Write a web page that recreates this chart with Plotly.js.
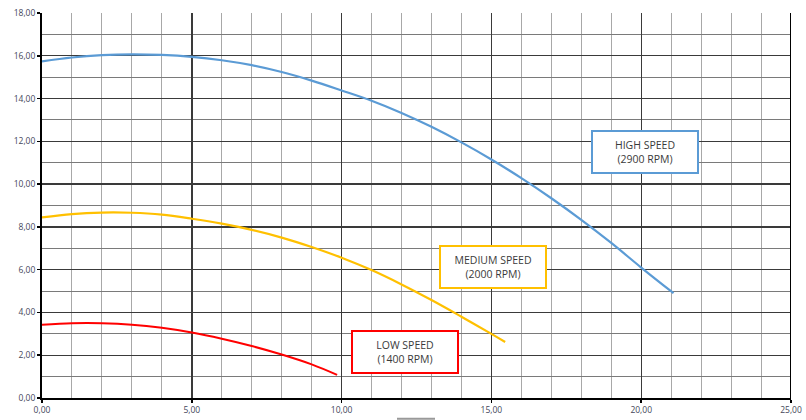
<!DOCTYPE html>
<html>
<head>
<meta charset="utf-8">
<script src="https://cdn.plot.ly/plotly-3.0.1.min.js"></script>
<style>html,body{margin:0;padding:0;background:#fff;}#chart{width:806px;height:420px;}</style>
</head>
<body>
<div id="chart"></div>
<script>
// High speed (2900 RPM)
const highX = [0, 1, 2, 3, 4, 5, 6, 7, 8, 9, 10, 11, 12, 13, 14, 15, 16, 17, 18, 19, 20, 21.08];
const highY = [15.74, 15.92, 16.03, 16.07, 16.04, 15.95, 15.79, 15.56, 15.24, 14.84, 14.38, 13.9, 13.33, 12.68, 11.95, 11.15, 10.28, 9.34, 8.33, 7.25, 6.1, 4.9];
// Medium speed (2000 RPM)
const medX = [0, 1, 2, 3, 4, 5, 6, 7, 8, 9, 10, 11, 12, 13, 14, 15, 15.46];
const medY = [8.44, 8.6, 8.67, 8.66, 8.57, 8.38, 8.15, 7.86, 7.5, 7.06, 6.56, 5.98, 5.31, 4.58, 3.8, 3.0, 2.62];
// Low speed (1400 RPM)
const lowX = [0, 1, 2, 3, 4, 5, 6, 7, 8, 9, 9.85];
const lowY = [3.43, 3.5, 3.5, 3.43, 3.28, 3.06, 2.77, 2.43, 2.03, 1.57, 1.08];
// Box labels
const labelText = ["HIGH SPEED<br>(2900 RPM)", "MEDIUM SPEED<br>(2000 RPM)", "LOW SPEED<br>(1400 RPM)"];
const labelX = [20.13, 15.04, 12.13];
const labelY = [11.5, 6.13, 2.14];
const colors = ["#5b9bd5", "#ffc000", "#ff0000"];

const traces = [
  {x: highX, y: highY, mode: "lines", line: {color: colors[0], width: 2.2, shape: "spline", smoothing: 1}, hoverinfo: "skip"},
  {x: medX, y: medY, mode: "lines", line: {color: colors[1], width: 2.2, shape: "spline", smoothing: 1}, hoverinfo: "skip"},
  {x: lowX, y: lowY, mode: "lines", line: {color: colors[2], width: 2, shape: "spline", smoothing: 1}, hoverinfo: "skip"}
];

const annotations = labelText.map((t, i) => ({
  x: labelX[i], y: labelY[i], xref: "x", yref: "y", text: t, showarrow: false,
  font: {family: "Open Sans, Liberation Sans, sans-serif", size: 10.5, color: "#3a3a3a"},
  align: "center", bgcolor: "#ffffff", bordercolor: colors[i], borderwidth: 2, borderpad: 1,
  width: 102, height: 38
}));

const layout = {
  width: 806, height: 420,
  margin: {l: 42, r: 15, t: 13, b: 22, pad: 0},
  paper_bgcolor: "#ffffff", plot_bgcolor: "#ffffff",
  showlegend: false,
  separators: ",.",
  font: {family: "Open Sans, Liberation Sans, sans-serif", size: 8.5, color: "#44475a"},
  xaxis: {
    range: [0, 25], dtick: 5, tick0: 0, tickformat: ".2f",
    showgrid: true, gridcolor: "#3a3a3a", gridwidth: 1.4,
    minor: {dtick: 1, showgrid: true, gridcolor: "#a8a8a8", gridwidth: 1},
    showline: true, linecolor: "#000000", linewidth: 2, mirror: false,
    ticks: "outside", ticklen: 3, tickcolor: "#000", tickwidth: 1.5,
    zeroline: false, fixedrange: true
  },
  yaxis: {
    range: [0, 18], dtick: 2, tick0: 0, tickformat: ".2f",
    showgrid: true, gridcolor: "#3a3a3a", gridwidth: 1.4,
    minor: {dtick: 1, showgrid: true, gridcolor: "#7a7a7a", gridwidth: 1},
    showline: true, linecolor: "#000000", linewidth: 2,
    ticks: "outside", ticklen: 3, tickcolor: "#000", tickwidth: 1.5,
    zeroline: false, fixedrange: true
  },
  annotations: annotations,
  shapes: [
    {type: "line", xref: "x", yref: "y", x0: 25, x1: 25, y0: 0, y1: 18, line: {color: "#000", width: 2}},
    {type: "line", xref: "paper", yref: "paper", x0: (397 - 42) / 749, x1: (435 - 42) / 749, y0: -0.054, y1: -0.054, line: {color: "#999", width: 2}}
  ]
};

Plotly.newPlot("chart", traces, layout, {displayModeBar: false, staticPlot: true});
</script>
</body>
</html>
